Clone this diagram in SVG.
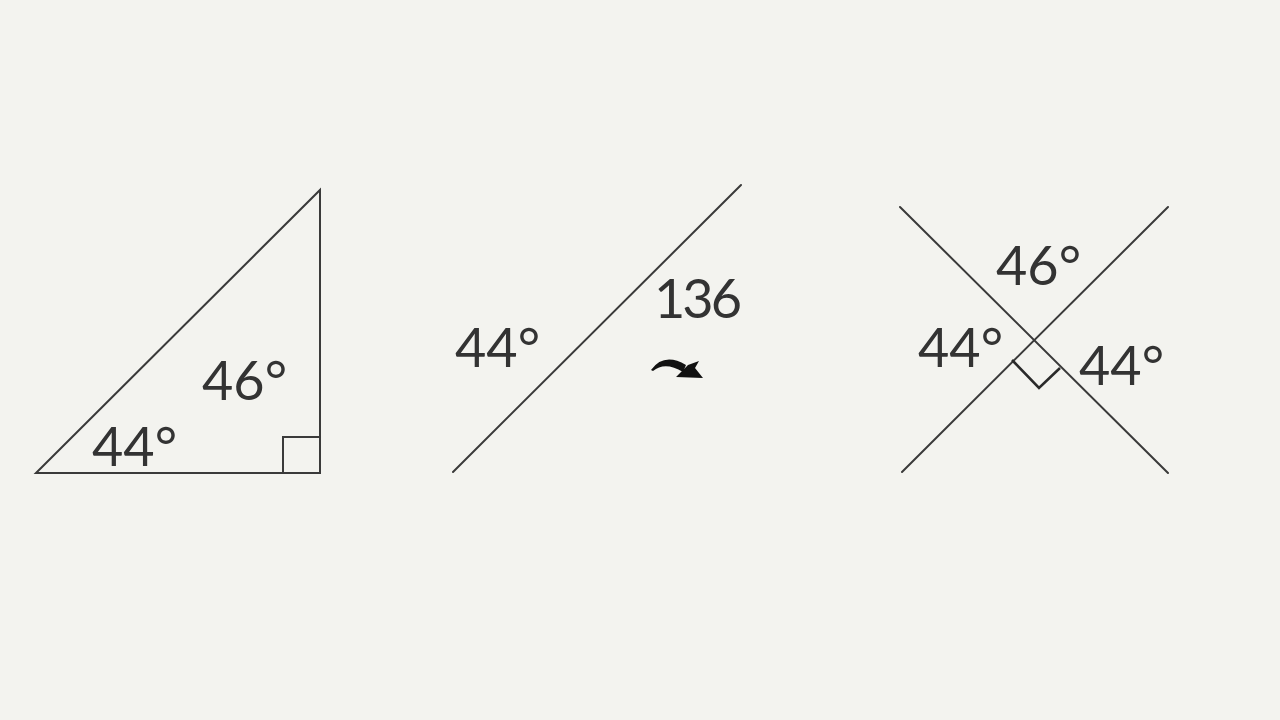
<svg xmlns="http://www.w3.org/2000/svg" width="1280" height="720" viewBox="0 0 1280 720">
<style>
.ln{stroke:#3a3a3a;stroke-width:2;fill:none;stroke-linecap:round}
.lbl{font-family:Lato,"Open Sans",sans-serif;font-size:54px;fill:#333;font-weight:400}
</style>
<rect width="1280" height="720" fill="#f3f3ef"/>
<g id="triangle">
<polygon class="ln" points="36,473 320,190 320,473" stroke-linejoin="miter"/>
<polyline class="ln" points="283,473 283,437 320,437" stroke-width="1.6"/>
<text class="lbl" x="92" y="466">44°</text>
<text class="lbl" x="202" y="400">46°</text>
</g>
<g id="line">
<line class="ln" x1="453" y1="472" x2="741" y2="185"/>
<text class="lbl" x="654" y="318" font-size="51" letter-spacing="-3">136</text>
<text class="lbl" x="455" y="367">44°</text>
<path d="M651,370 Q664,352 686,365 L683,372 Q665,361 653,371 Z" fill="#111"/>
<path d="M676,377 L688,365 L699,361 L695,368 L703,378 Z" fill="#111"/>
</g>
<g id="cross">
<line class="ln" x1="900" y1="207" x2="1168" y2="473"/>
<line class="ln" x1="902" y1="472" x2="1168" y2="207"/>
<polyline points="1012,360 1039,388 1060,368" fill="none" stroke="#2a2a2a" stroke-width="2.6"/>
<text class="lbl" x="996" y="285">46°</text>
<text class="lbl" x="918" y="367">44°</text>
<text class="lbl" x="1079" y="385">44°</text>
</g>
</svg>
